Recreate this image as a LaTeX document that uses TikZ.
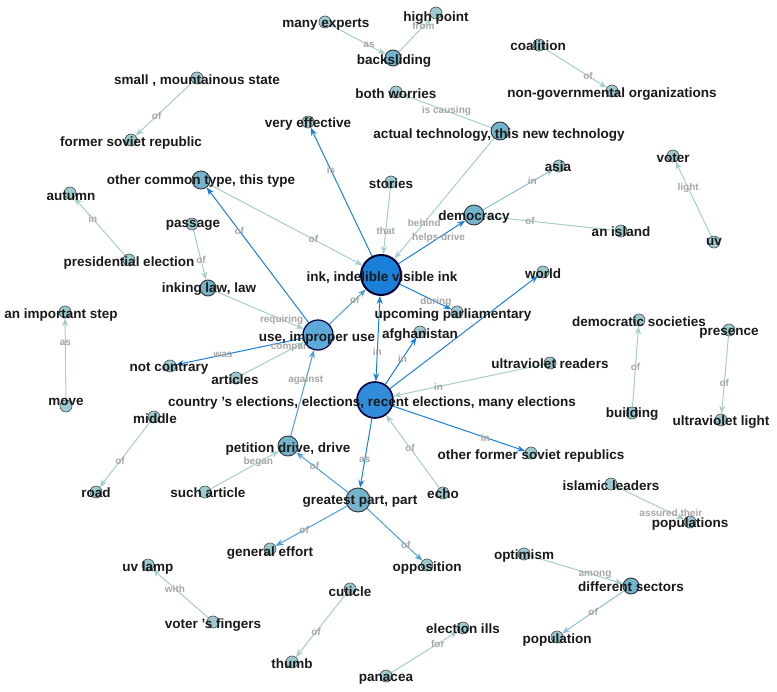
\documentclass[tikz,border=0pt]{standalone}
\usepackage{fontspec}
\setmainfont{Liberation Sans}
\usetikzlibrary{arrows.meta,backgrounds}
\definecolor{lt}{HTML}{A6CCCC}
\definecolor{bl}{HTML}{1A7FD8}
\definecolor{md}{HTML}{4B9FD6}
\definecolor{lb}{HTML}{8CBFD0}
\definecolor{nf}{HTML}{9CCAD0}
\definecolor{mf}{HTML}{74B3CC}
\tikzset{
 nc/.style={circle,draw=black!70,line width=0.6pt,fill=nf,inner sep=0pt},
 big/.style={fill=bl,draw=black!80!blue,line width=2pt},
 cty/.style={fill=bl!90!white,draw=black!75!blue,line width=1.6pt},
 usef/.style={fill=md!90!white,draw=black!75!blue,line width=1.2pt},
 mid/.style={fill=mf,draw=black!80,line width=0.9pt},
 tx/.style={font=\fontsize{13.5}{15}\selectfont\bfseries,text=black!90,inner sep=0pt},
 el/.style={font=\fontsize{10}{11}\selectfont\bfseries,text=black!35,inner sep=0pt},
 ar/.style={-{Stealth[length=8pt,width=6pt]},line width=1pt},
 L/.style={ar,draw=lt},
 B/.style={ar,draw=bl},
 M/.style={ar,draw=md},
 P/.style={ar,draw=lb}
}
\newcommand\gn[8]{\node[nc,minimum size=#4pt,#5] (#1) at (#2,#3) {};
\node[tx] (#1t) at (#7,#8) {#6};}
\newcommand\ed[5]{\draw[#1] (#2) -- node[el,pos=#4]{#5} (#3);}
\begin{document}
\begin{tikzpicture}[x=1pt,y=-1pt]
\useasboundingbox (0,0) rectangle (777,692);
\gn{me}{325}{22}{12}{}{many experts}{326}{25}
\gn{hp}{436}{13}{12}{}{high point}{436}{18}
\gn{bs}{393}{58}{16}{mid}{backsliding}{394}{61}
\gn{co}{539}{45}{12}{}{coalition}{538}{46}
\gn{ng}{612}{91}{12}{}{non-governmental organizations}{612}{94}
\gn{bw}{396}{92}{12}{}{both worries}{396}{94}
\gn{at}{500}{131}{18}{mid}{actual technology, this new technology}{499}{135}
\gn{ve}{308}{122}{12}{}{very effective}{308}{124}
\gn{sm}{197}{78}{12}{}{small , mountainous state}{197}{81}
\gn{fs}{131}{140}{12}{}{former soviet republic}{131}{143}
\gn{oc}{201}{180}{18}{mid}{other common type, this type}{201}{181}
\gn{au}{70}{193}{12}{}{autumn}{71}{196}
\gn{pa}{192}{224}{12}{}{passage}{193}{225}
\gn{pe}{129}{260}{12}{}{presidential election}{129}{263}
\gn{il}{208}{288}{16}{mid}{inking law, law}{209}{289}
\gn{is}{65}{312}{12}{}{an important step}{61}{315}
\gn{mv}{66}{406}{12}{}{move}{66}{402}
\gn{nc}{170}{366}{12}{}{not contrary}{169}{368}
\gn{ac}{236}{378}{12}{}{articles}{235}{380}
\gn{st}{391}{182}{12}{}{stories}{391}{184}
\gn{dm}{474}{215}{20}{mid}{democracy}{474}{217}
\gn{as}{559}{166}{12}{}{asia}{558}{167}
\gn{ai}{621}{231}{12}{}{an island}{621}{232}
\gn{vo}{673}{156}{12}{}{voter}{673}{158}
\gn{uv}{714}{242}{12}{}{uv}{714}{242}
\gn{wo}{543}{272}{12}{}{world}{543}{274}
\gn{up}{457}{312}{12}{}{upcoming parliamentary}{453}{315}
\gn{af}{420}{332}{12}{}{afghanistan}{420}{335}
\gn{ds}{639}{320}{12}{}{democratic societies}{639}{322}
\gn{pr}{729}{330}{12}{}{presence}{729}{333}
\gn{ur}{550}{363}{12}{}{ultraviolet readers}{550}{364}
\gn{bu}{632}{413}{12}{}{building}{632}{414}
\gn{ul}{721}{420}{12}{}{ultraviolet light}{721}{422}
\gn{mi}{154}{417}{12}{}{middle}{155}{419}
\gn{of}{531}{453}{12}{}{other former soviet republics}{531}{456}
\gn{pd}{288}{446}{20}{mid}{petition drive, drive}{288}{449}
\gn{ec}{443}{493}{12}{}{echo}{443}{494}
\gn{lea}{611}{484}{12}{}{islamic leaders}{611}{486}
\gn{ro}{96}{492}{12}{}{road}{96}{493}
\gn{sa}{205}{492}{12}{}{such article}{208}{493}
\gn{gp}{358}{500}{24}{mid}{greatest part, part}{360}{502}
\gn{pps}{690}{522}{12}{}{populations}{690}{524}
\gn{ge}{270}{549}{12}{}{general effort}{270}{553}
\gn{op}{427}{565}{12}{}{opposition}{427}{568}
\gn{om}{524}{554}{12}{}{optimism}{524}{556}
\gn{dsec}{631}{586}{16}{mid}{different sectors}{631}{587}
\gn{ul2}{148}{565}{12}{}{uv lamp}{148}{568}
\gn{cu}{350}{589}{12}{}{cuticle}{350}{592}
\gn{vf}{213}{622}{12}{}{voter 's fingers}{213}{625}
\gn{ei}{463}{628}{12}{}{election ills}{463}{629}
\gn{po}{557}{637}{12}{}{population}{557}{640}
\gn{th}{292}{662}{12}{}{thumb}{292}{664}
\gn{pn}{386}{676}{12}{}{panacea}{386}{679}
\gn{us}{318}{335}{30}{usef}{use, improper use}{317}{338}
\gn{ce}{375}{400}{36}{cty}{country 's elections, elections, recent elections, many elections}{372}{403}
\gn{ik}{381}{275}{40}{big}{ink, indelible visible ink}{382}{278}
\begin{scope}[on background layer]
\ed{L}{me}{bs}{0.7}{as}
\ed{L}{bs}{hp}{0.75}{from}
\ed{L}{co}{ng}{0.7}{of}
\ed{L}{at}{bw}{0.5}{is causing}
\ed{L}{at}{ik}{0.7}{behind}
\ed{L}{sm}{fs}{0.63}{of}
\ed{B}{ik}{ve}{0.67}{is}
\ed{L}{oc}{ik}{0.68}{of}
\ed{B}{us}{oc}{0.68}{of}
\ed{L}{pe}{au}{0.63}{in}
\ed{L}{pa}{il}{0.6}{of}
\ed{L}{il}{us}{0.75}{requiring}
\ed{L}{mv}{is}{0.7}{as}
\ed{B}{us}{nc}{0.63}{was}
\ed{L}{ac}{us}{0.85}{compared}
\ed{M}{pd}{us}{0.65}{against}
\ed{M}{us}{ik}{0.7}{of}
\ed{L}{st}{ik}{0.65}{that}
\ed{B}{ik}{dm}{0.6}{helps drive}
\ed{P}{dm}{as}{0.7}{in}
\ed{L}{ai}{dm}{0.65}{of}
\ed{L}{uv}{vo}{0.65}{light}
\ed{B}{ik}{up}{0.7}{during}
\draw[B,{Stealth[length=8pt,width=6pt]}-{Stealth[length=8pt,width=6pt]}] (ce) -- node[el,pos=0.35]{in} (ik);
\ed{B}{ce}{af}{0.55}{in}
\draw[B] (ce) -- (wo);
\ed{L}{ur}{ce}{0.7}{in}
\ed{L}{bu}{ds}{0.5}{of}
\ed{L}{pr}{ul}{0.6}{of}
\ed{B}{ce}{of}{0.7}{in}
\ed{L}{ec}{ce}{0.55}{of}
\ed{B}{ce}{gp}{0.6}{as}
\ed{L}{mi}{ro}{0.6}{of}
\ed{M}{gp}{pd}{0.65}{of}
\ed{L}{sa}{pd}{0.7}{began}
\ed{M}{gp}{ge}{0.6}{of}
\ed{M}{gp}{op}{0.7}{of}
\ed{L}{lea}{pps}{0.8}{assured their}
\ed{L}{om}{dsec}{0.7}{among}
\ed{P}{dsec}{po}{0.5}{of}
\ed{L}{vf}{ul2}{0.6}{with}
\ed{L}{cu}{th}{0.6}{of}
\ed{L}{pn}{ei}{0.7}{for}
\end{scope}
\end{tikzpicture}
\end{document}
